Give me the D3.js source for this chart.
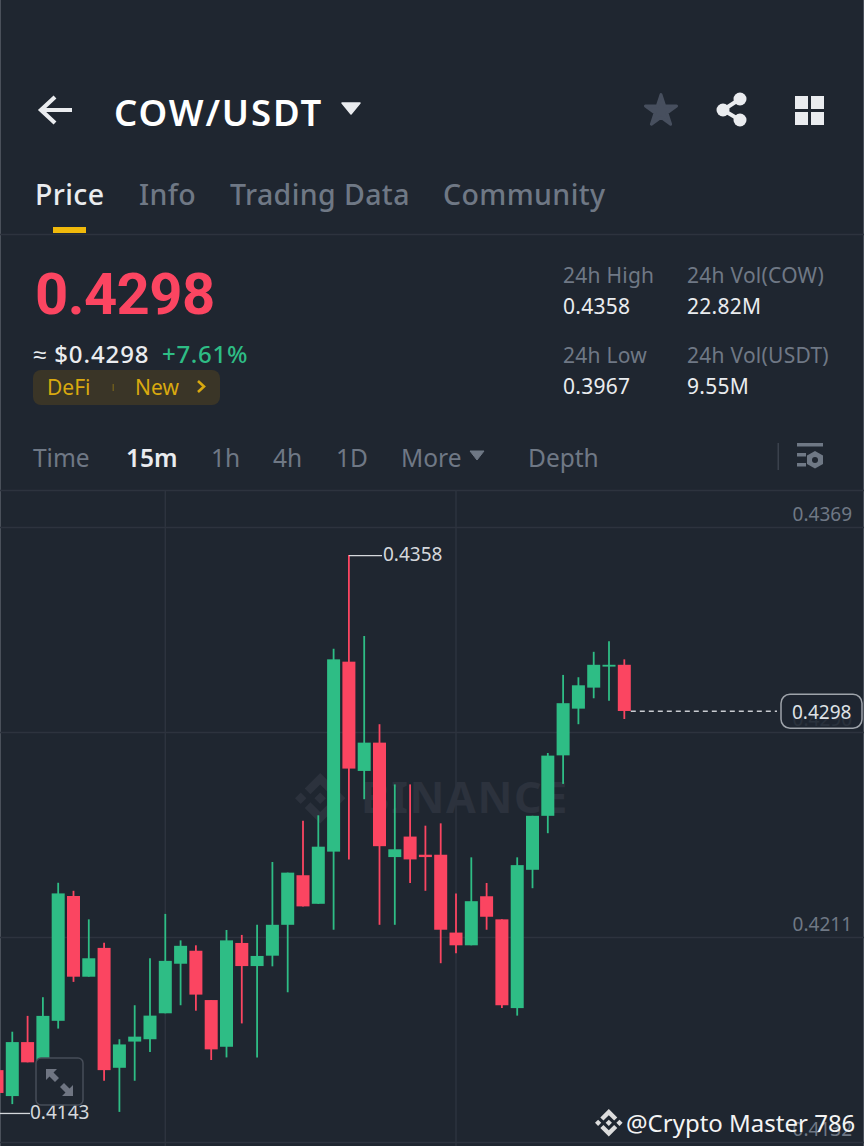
<!DOCTYPE html>
<html>
<head>
<meta charset="utf-8">
<script src="https://d3js.org/d3.v7.min.js"></script>
<style>
  html, body { margin: 0; padding: 0; background: #1f2630; }
  text { font-family: "Noto Sans", sans-serif; }
</style>
</head>
<body>
<div id="chart"></div>
<script>
// candles, oldest first
const opens = [0.41597,0.41497,0.41705,0.41628,0.41787,0.42268,0.41957,0.42068,0.41606,0.41707,0.41716,0.41816,0.42007,0.42057,0.41867,0.41687,0.42087,0.41998,0.42038,0.42157,0.42348,0.42238,0.42439,0.43171,0.42750,0.42859,0.42418,0.42497,0.42427,0.42427,0.42127,0.42078,0.42267,0.42178,0.41836,0.42369,0.42577,0.42810,0.42990,0.43071,0.43152,0.43159];
const highs = [0.41597,0.41745,0.41806,0.41878,0.42319,0.42288,0.42178,0.42088,0.41716,0.41847,0.42028,0.42199,0.42097,0.42078,0.41867,0.42137,0.42118,0.42157,0.42399,0.42358,0.42558,0.42579,0.43221,0.43582,0.43270,0.42930,0.42698,0.42698,0.42539,0.42548,0.42278,0.42417,0.42318,0.42178,0.42417,0.42577,0.42819,0.43120,0.43111,0.43209,0.43250,0.43180];
const lows = [0.41509,0.41466,0.41627,0.41628,0.41757,0.41937,0.41957,0.41556,0.41436,0.41556,0.41667,0.41816,0.41847,0.41826,0.41636,0.41646,0.41777,0.41646,0.41997,0.41897,0.42228,0.42238,0.42138,0.42409,0.42641,0.42157,0.42157,0.42318,0.42288,0.42009,0.42047,0.42078,0.42138,0.41836,0.41807,0.42298,0.42510,0.42700,0.42930,0.43030,0.43020,0.42950];
const closes = [0.41509,0.41705,0.41627,0.41806,0.42278,0.41957,0.42028,0.41597,0.41696,0.41726,0.41807,0.42018,0.42076,0.41888,0.41677,0.42097,0.41998,0.42037,0.42157,0.42358,0.42228,0.42458,0.43180,0.42759,0.42859,0.42460,0.42448,0.42409,0.42418,0.42138,0.42078,0.42248,0.42188,0.41847,0.42387,0.42577,0.42809,0.43011,0.43080,0.43159,0.43159,0.42981];

const axisTicks = [0.4369, 0.4290, 0.4211, 0.4132];
const lastPrice = 0.4298, highMark = 0.4358, lowMark = 0.4143;
const highIndex = 23, lowIndex = 0;

const tabs = ["Price", "Info", "Trading Data", "Community"];
const periods = ["Time", "15m", "1h", "4h", "1D", "More", "Depth"];
const stats = [["24h High", "0.4358"], ["24h Vol(COW)", "22.82M"], ["24h Low", "0.3967"], ["24h Vol(USDT)", "9.55M"]];

const width = 864, height = 1146;
const green = "#2ebd85", red = "#fb4561", bg = "#1f2630", grid = "#2d333e";
const grey = "#6f7885", white = "#eaecef", yellow = "#f0b90b";
const logoPath = "M7.34 10.08L12 5.42l4.66 4.66 2.71-2.71L12 0 4.63 7.37zM0 12l2.71-2.71L5.42 12l-2.71 2.71zM7.34 13.92L12 18.58l4.66-4.66 2.71 2.71L12 24l-7.37-7.37zM18.58 12l2.71-2.71L24 12l-2.71 2.71zM14.75 12L12 9.25 9.25 12 12 14.75z";

const svg = d3.select("#chart").append("svg")
  .attr("width", width).attr("height", height)
  .style("display", "block");

svg.append("rect").attr("width", width).attr("height", height).attr("fill", bg);

const txt = (x, y, s, size, fill, weight, spacing) => svg.append("text")
  .attr("x", x).attr("y", y).attr("dominant-baseline", "central")
  .attr("font-size", size).attr("fill", fill).attr("font-weight", weight || 400)
  .attr("letter-spacing", spacing || 0).text(s);

const hline = (x1, x2, y, col) => svg.append("line")
  .attr("x1", x1).attr("x2", x2).attr("y1", y).attr("y2", y)
  .attr("stroke", col || grid).attr("stroke-width", 1.3);

// screen edges
svg.append("line").attr("x1", 0.5).attr("x2", 0.5).attr("y1", 0).attr("y2", height).attr("stroke", "#4a505a");
svg.append("line").attr("x1", 863.5).attr("x2", 863.5).attr("y1", 0).attr("y2", height).attr("stroke", "#4a505a");

// header
svg.append("path").attr("d", "M72 110H42M55 97L41 110L55 123")
  .attr("fill", "none").attr("stroke", white).attr("stroke-width", 4.2);
txt(114, 112, "COW/USDT", 36.5, "#fff", 600, 1.9);
svg.append("path").attr("d", "M342 103H360L351 114Z").attr("fill", white).attr("stroke", white).attr("stroke-width", 1.5).attr("stroke-linejoin", "round");
svg.append("path").attr("d", d3.symbol(d3.symbolStar, 300)())
  .attr("transform", "translate(661,111)").attr("fill", "#474f5e")
  .attr("stroke", "#474f5e").attr("stroke-width", 3).attr("stroke-linejoin", "round");
svg.append("path").attr("d", "M740 99L723 110L740 120").attr("fill", "none").attr("stroke", white).attr("stroke-width", 4);
[[740, 99], [723, 110], [740, 120]].forEach(c => svg.append("circle")
  .attr("cx", c[0]).attr("cy", c[1]).attr("r", 6.5).attr("fill", white));
[[795, 96], [811, 96], [795, 112], [811, 112]].forEach(c => svg.append("rect")
  .attr("x", c[0]).attr("y", c[1]).attr("width", 13).attr("height", 13).attr("fill", white));

// tabs
const tabX = [35, 139, 230, 443];
tabs.forEach((t, i) => txt(tabX[i], 194, t, 28.5, i === 0 ? white : grey, 500, 0.4));
svg.append("rect").attr("x", 53).attr("y", 227).attr("width", 33).attr("height", 6).attr("fill", yellow);
hline(0, width, 234.5);

// price block
txt(35, 294, "0.4298", 58, red, 700, -0.6).style("font-family", "Roboto");
txt(33, 353, "≈ $0.4298", 24, white, 500, 0.9);
txt(162, 353, "+7.61%", 24, green, 500, 0.7);
svg.append("rect").attr("x", 33).attr("y", 370).attr("width", 187).attr("height", 35).attr("rx", 8).attr("fill", "#3a3527");
txt(47, 387, "DeFi", 21, "#d9a90f");
svg.append("rect").attr("x", 112.5).attr("y", 384).attr("width", 1.5).attr("height", 7).attr("fill", "#6b5a1d");
txt(135, 387, "New", 21, "#d9a90f");
svg.append("path").attr("d", "M198 381L204 386.5L198 392").attr("fill", "none").attr("stroke", "#d9a90f").attr("stroke-width", 2.6);

const statX = [563, 687, 563, 687], statY = [275, 275, 355, 355];
stats.forEach((s, i) => {
  txt(statX[i], statY[i], s[0], 21, grey, 400, 0.25);
  txt(statX[i], i < 2 ? 306 : 386, s[1], 21, white, 400, 0.25);
});

// period row
const periodX = [33, 126, 211, 273, 336, 401, 528];
periods.forEach((p, i) => txt(periodX[i], 457, p, 24.5, i === 1 ? white : grey, i === 1 ? 600 : 400));
svg.append("path").attr("d", "M470 451H484L477 460Z").attr("fill", grey).attr("stroke", grey).attr("stroke-linejoin", "round");
svg.append("rect").attr("x", 777.5).attr("y", 443).attr("width", 1.5).attr("height", 27).attr("fill", "#3a414c");
svg.append("path").attr("d", "M797 443H823V446.5H797ZM797 453H806V456.5H797ZM797 463H806V466.5H797Z").attr("fill", grey);
svg.append("path").attr("d", "M815 451L823 455.5V464L815 468.5L807 464V455.5Z").attr("fill", grey);
svg.append("circle").attr("cx", 815).attr("cy", 460).attr("r", 3).attr("fill", bg);
hline(0, width, 490.5);

// chart scales
const x = d3.scaleBand().domain(d3.range(opens.length)).range([-10.66, 631.96]);
const y = d3.scaleLinear().domain([0.4369, 0.4132]).range([527, 1142]);
const cx = i => x(i) + x.bandwidth() / 2;

// vertical grid
const vGrid = [11, 30];
svg.append("g").selectAll("line").data(vGrid).join("line")
  .attr("x1", d => cx(d)).attr("x2", d => cx(d))
  .attr("y1", 490).attr("y2", height)
  .attr("stroke", grid).attr("stroke-width", 1.5);

// horizontal grid with labels, from the axis
const yAxis = svg.append("g")
  .call(d3.axisRight(y).tickValues(axisTicks).tickSize(width).tickFormat(d3.format(".4f")));
yAxis.select(".domain").remove();
yAxis.selectAll("line").attr("stroke", grid).attr("stroke-width", 1.3);
yAxis.selectAll("text")
  .attr("x", 852).attr("text-anchor", "end")
  .attr("dominant-baseline", "central").attr("dy", -14)
  .attr("font-size", 19).attr("fill", grey)
  .style("font-family", "Noto Sans");

// watermark
svg.append("path").attr("d", logoPath).attr("fill", "#2c323d")
  .attr("transform", "translate(295,773) scale(2.1)");
svg.append("text").attr("x", 361).attr("y", 813).attr("font-size", 43).attr("font-weight", 700)
  .attr("letter-spacing", 1.6).attr("fill", "#2c323d").text("BINANCE");

// candles
const candles = svg.append("g").selectAll("g").data(d3.range(opens.length)).join("g")
  .attr("fill", i => closes[i] >= opens[i] ? green : red)
  .attr("stroke", i => closes[i] >= opens[i] ? green : red);
candles.append("line")
  .attr("x1", i => cx(i)).attr("x2", i => cx(i))
  .attr("y1", i => y(highs[i])).attr("y2", i => y(lows[i]))
  .attr("stroke-width", 1.8);
candles.append("rect")
  .attr("x", i => cx(i) - 6.5).attr("width", 13)
  .attr("y", i => y(Math.max(opens[i], closes[i])))
  .attr("height", i => Math.max(1.5, Math.abs(y(opens[i]) - y(closes[i]))))
  .attr("stroke", "none");

// high and low marks
const markCol = "#d5d8dc";
hline(cx(highIndex), 382, y(highMark), markCol);
txt(383, y(highMark) - 2, d3.format(".4f")(highMark), 19, markCol);
hline(0, 30, y(lowMark), markCol);
txt(30, y(lowMark) - 1, d3.format(".4f")(lowMark), 19, markCol);

// last price line and tag
svg.append("line").attr("x1", cx(41) + 6.5).attr("x2", 777)
  .attr("y1", y(lastPrice)).attr("y2", y(lastPrice))
  .attr("stroke", "#c9ccd1").attr("stroke-width", 1.3).attr("stroke-dasharray", "5 4");
svg.append("rect").attr("x", 781).attr("y", y(lastPrice) - 17).attr("width", 81).attr("height", 34).attr("rx", 9)
  .attr("fill", bg).attr("fill-opacity", 0.85).attr("stroke", "#9ea3aa").attr("stroke-width", 1.5);
txt(792, y(lastPrice) + 1, d3.format(".4f")(lastPrice), 19, "#dfe2e6");

// expand button
svg.append("rect").attr("x", 36).attr("y", 1058).attr("width", 47).attr("height", 47).attr("rx", 5)
  .attr("fill", bg).attr("stroke", "#474d58").attr("stroke-width", 1.5);
svg.append("path").attr("d", "M46 1069H57L53.5 1072.5L59 1078L55 1082L49.5 1076.5L46 1080ZM73 1096H62L65.5 1092.5L60 1087L64 1083L69.5 1088.5L73 1085Z").attr("fill", "#6f7582");

// repost credit
svg.append("path").attr("d", logoPath).attr("fill", "#dcdcdc")
  .attr("transform", "translate(595,1109) scale(1.15)");
txt(626, 1122, "@Crypto Master 786", 24, "#f4f4f4", 400);
</script>
</body>
</html>
